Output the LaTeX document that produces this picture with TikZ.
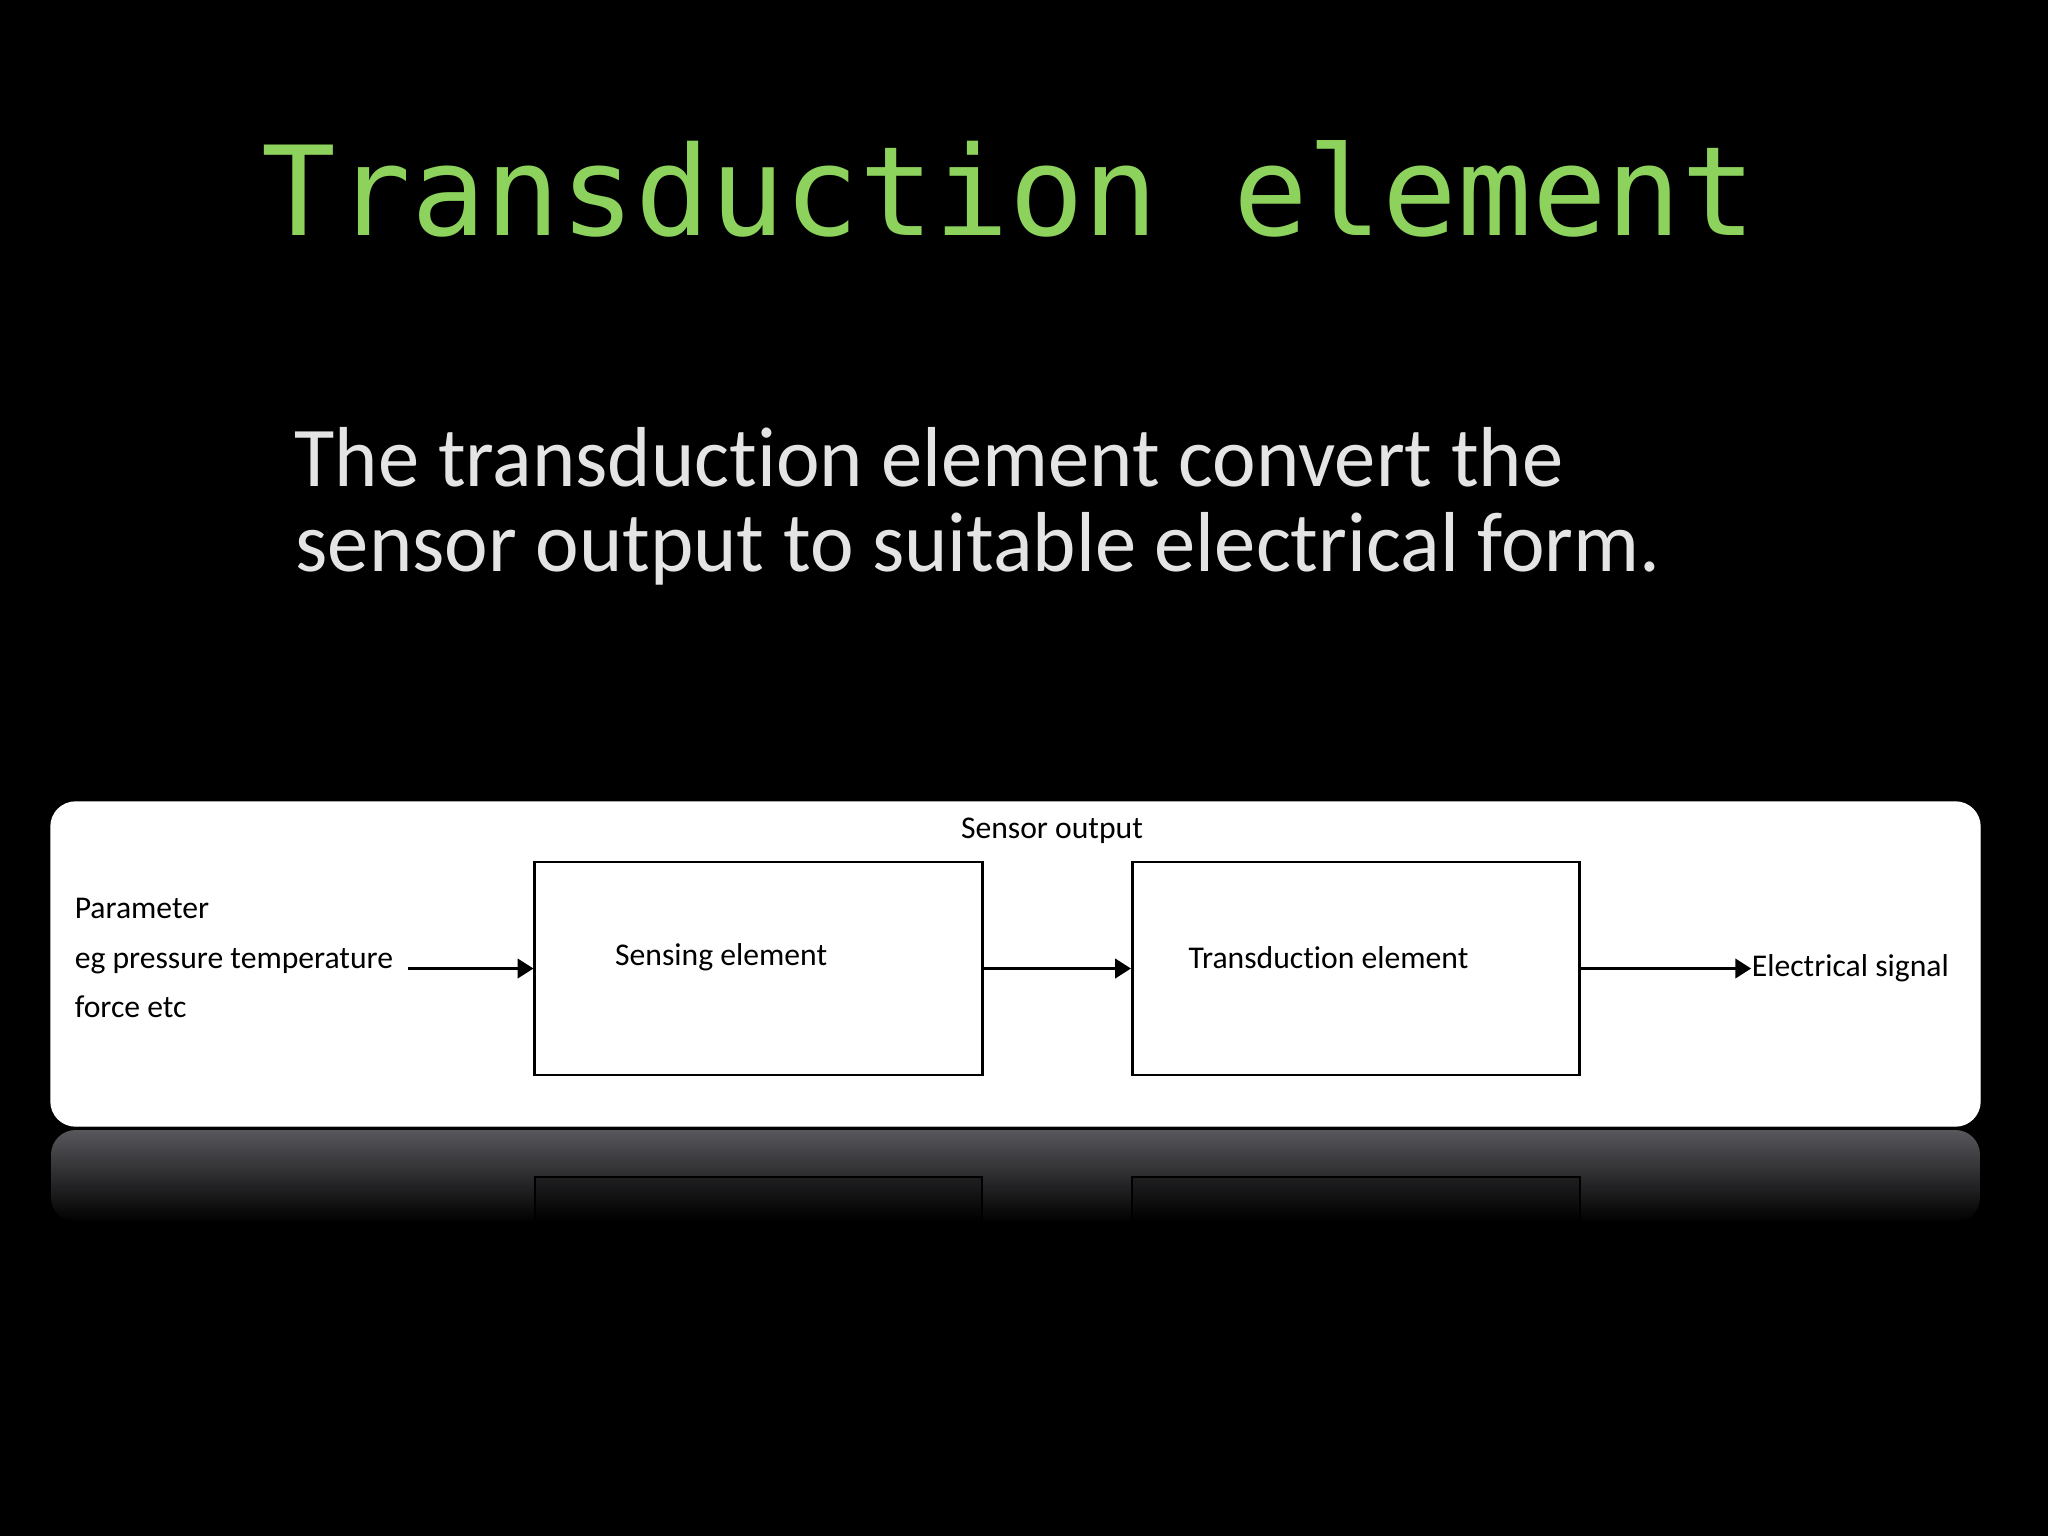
\documentclass[tikz,border=0pt]{standalone}
\usepackage{fontspec}
\setmainfont[Ligatures=NoCommon]{Carlito}
\newfontfamily\titlefont{DejaVu Sans Mono}
\newfontfamily\bodyfont[FakeStretch=0.97, Ligatures=NoCommon]{Carlito}
\usetikzlibrary{arrows.meta,calc,positioning}
\definecolor{titlegreen}{RGB}{140,210,92}
\definecolor{bodygray}{RGB}{228,228,228}
\definecolor{reflgray}{RGB}{88,87,92}
\begin{document}
\begin{tikzpicture}[x=0.01cm, y=-0.01cm,
  block/.style={draw, line width=0.8pt, minimum width=4.47cm, minimum height=2.13cm, inner sep=0pt},
  lbl/.style={inner sep=0pt, font=\fontsize{9}{9}\selectfont},
  arr/.style={line width=0.8pt, -{Triangle[length=4.5pt, width=5.5pt]}}]

 \fill[black] (0,0) rectangle (2048,1536);
 \useasboundingbox (0,0) rectangle (2048,1536);

 % title and text
 \node[anchor=base west, inner sep=0pt, text=titlegreen, font=\titlefont\fontsize{35.3}{40}\selectfont] (title) at (261,235) {Transduction element};
 \node[anchor=base west, inner sep=0pt, text=bodygray, font=\bodyfont\fontsize{24.2}{29}\selectfont] (body1) at (294,486) {The transduction element convert the};
 \node[anchor=base west, inner sep=0pt, text=bodygray, font=\bodyfont\fontsize{24.2}{29}\selectfont] (body2) at (295,571) {sensor output to suitable electrical form.};

 % reflection
 \shade[top color=reflgray, bottom color=black, rounded corners=7pt] (51,1130) rectangle (1980,1222);
 \foreach \xa/\xb in {535/982, 1132/1580}
   \draw[black, line width=0.8pt, fill=black, fill opacity=0.25] (\xa,1240) -- (\xa,1177) -- (\xb,1177) -- (\xb,1240);

 % panel
 \draw[white, fill=white, rounded corners=7pt] (51,802) rectangle (1980,1126);

 % blocks
 \node[block] (sense) at (758.5,968.5) {};
 \node[block] (trans) at (1356,968.5) {};
 \node[lbl, anchor=west] (sensetxt) at ($(sense.west)+(81,-11)$) {Sensing element};
 \node[lbl, anchor=west] (transtxt) at ($(trans.west)+(57,-11)$) {Transduction element};

 \node[lbl, anchor=west, align=left, inner xsep=4pt, font=\fontsize{9}{14}\selectfont] (param) at (60,958) {Parameter\\eg pressure temperature\\force etc};
 \node[lbl] (out) at (1052,831) {Sensor output};
 \node[lbl, right=1.7cm of trans] (sig) {Electrical signal};

 % lines
 \draw[arr] (param.east |- sense.west) -- (sense.west);
 \draw[arr] (sense) -- (trans);
 \draw[arr] (trans) -- (sig);

\end{tikzpicture}
\end{document}
